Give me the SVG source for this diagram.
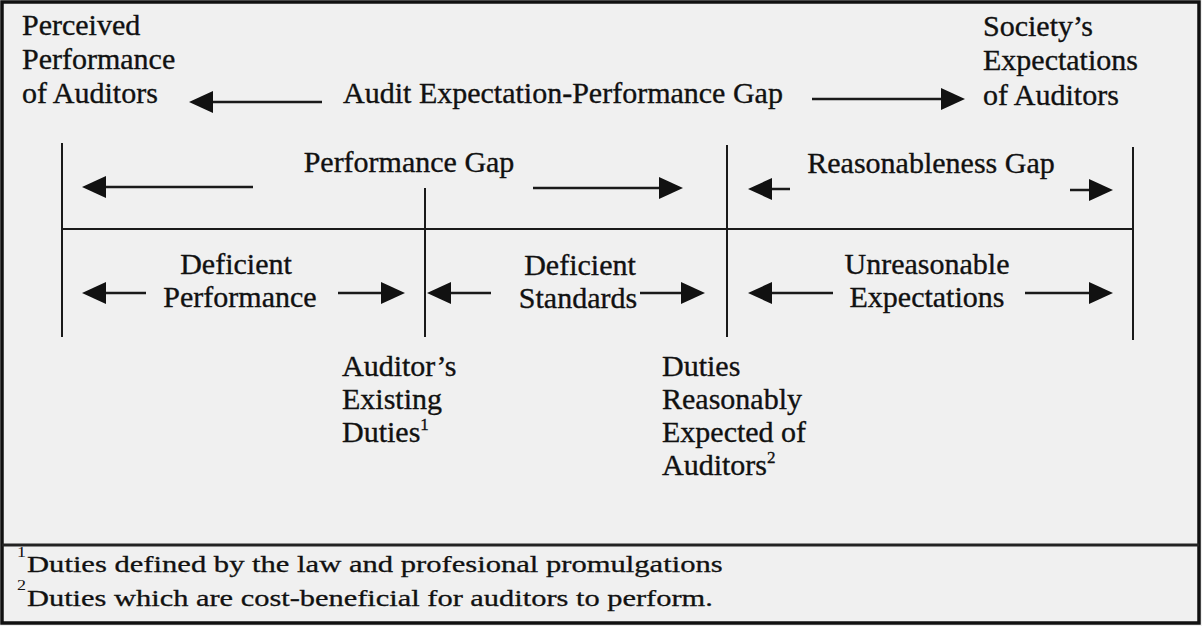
<svg xmlns="http://www.w3.org/2000/svg" width="1202" height="626" viewBox="0 0 1202 626">
<defs>
<style>
.t{font-family:"Liberation Serif","Times New Roman",serif;font-size:30px;fill:#111;stroke:#111;stroke-width:0.35}
.m{text-anchor:middle}
.fn{font-family:"Liberation Serif","Times New Roman",serif;font-size:24px;fill:#111;stroke:#111;stroke-width:0.3}
.fs{font-family:"Liberation Serif","Times New Roman",serif;font-size:15px;fill:#111}
.sup{font-size:17px}
.ln{stroke:#1a1a1a;stroke-width:2;fill:none}
.ar{stroke:#1a1a1a;stroke-width:2.5;fill:none;marker-end:url(#ah)}
</style>
<marker id="ah" markerUnits="userSpaceOnUse" markerWidth="24" markerHeight="22" refX="14" refY="11" orient="auto">
<path d="M0,0 L24,11 L0,22 Z" fill="#111"/>
</marker>
</defs>
<rect x="0" y="0" width="1202" height="626" fill="#f0f0f0"/>
<rect x="2" y="2" width="1197" height="621" fill="none" stroke="#111" stroke-width="3.5"/>
<line x1="2" y1="545" x2="1199" y2="545" stroke="#222" stroke-width="3"/>

<g id="frame">
<line class="ln" x1="62" y1="143" x2="62" y2="337"/>
<line class="ln" x1="425" y1="188" x2="425" y2="337"/>
<line class="ln" x1="727" y1="145" x2="727" y2="337"/>
<line class="ln" x1="1133" y1="147" x2="1133" y2="340"/>
<line class="ln" x1="62" y1="229" x2="1133" y2="229"/>
</g>

<g id="connectors">
<line class="ar" x1="322" y1="102" x2="199" y2="102"/>
<line class="ar" x1="812" y1="99" x2="955" y2="99"/>
<line class="ar" x1="253" y1="187" x2="92" y2="187"/>
<line class="ar" x1="533" y1="188" x2="673" y2="188"/>
<line class="ar" x1="790" y1="189" x2="758" y2="189"/>
<line class="ar" x1="1070" y1="190" x2="1103" y2="190"/>
<line class="ar" x1="146" y1="293" x2="92" y2="293"/>
<line class="ar" x1="338" y1="293" x2="395" y2="293"/>
<line class="ar" x1="491" y1="293" x2="437" y2="293"/>
<line class="ar" x1="640" y1="293" x2="695" y2="293"/>
<line class="ar" x1="833" y1="293" x2="758" y2="293"/>
<line class="ar" x1="1025" y1="293" x2="1103" y2="293"/>
</g>

<g id="perceived">
<text class="t" x="22" y="35">Perceived</text>
<text class="t" x="22" y="69">Performance</text>
<text class="t" x="22" y="103">of Auditors</text>
</g>
<g id="society">
<text class="t" x="983" y="36">Society’s</text>
<text class="t" x="983" y="70">Expectations</text>
<text class="t" x="983" y="105">of Auditors</text>
</g>
<g id="audit-gap">
<text class="t m" x="563" y="103">Audit Expectation-Performance Gap</text>
</g>
<g id="performance-gap">
<text class="t m" x="409" y="172">Performance Gap</text>
</g>
<g id="reasonableness-gap">
<text class="t m" x="931" y="173">Reasonableness Gap</text>
</g>
<g id="deficient-performance">
<text class="t m" x="236" y="274">Deficient</text>
<text class="t m" x="240" y="307">Performance</text>
</g>
<g id="deficient-standards">
<text class="t m" x="580" y="275">Deficient</text>
<text class="t m" x="578" y="308">Standards</text>
</g>
<g id="unreasonable-expectations">
<text class="t m" x="927" y="274">Unreasonable</text>
<text class="t m" x="927" y="307">Expectations</text>
</g>
<g id="existing-duties">
<text class="t" x="342" y="376">Auditor’s</text>
<text class="t" x="342" y="409">Existing</text>
<text class="t" x="342" y="442">Duties<tspan class="sup" dy="-12">1</tspan></text>
</g>
<g id="reasonable-duties">
<text class="t" x="662" y="376">Duties</text>
<text class="t" x="662" y="409">Reasonably</text>
<text class="t" x="662" y="442">Expected of</text>
<text class="t" x="662" y="475">Auditors<tspan class="sup" dy="-12">2</tspan></text>
</g>
<g id="footnotes">
<text class="fs" transform="translate(17,557) scale(1.2,1)">1</text>
<text class="fn" transform="translate(27,572) scale(1.275,1)">Duties defined by the law and profesional promulgations</text>
<text class="fs" transform="translate(17,590) scale(1.2,1)">2</text>
<text class="fn" transform="translate(27,606) scale(1.268,1)">Duties which are cost-beneficial for auditors to perform.</text>
</g>
</svg>
